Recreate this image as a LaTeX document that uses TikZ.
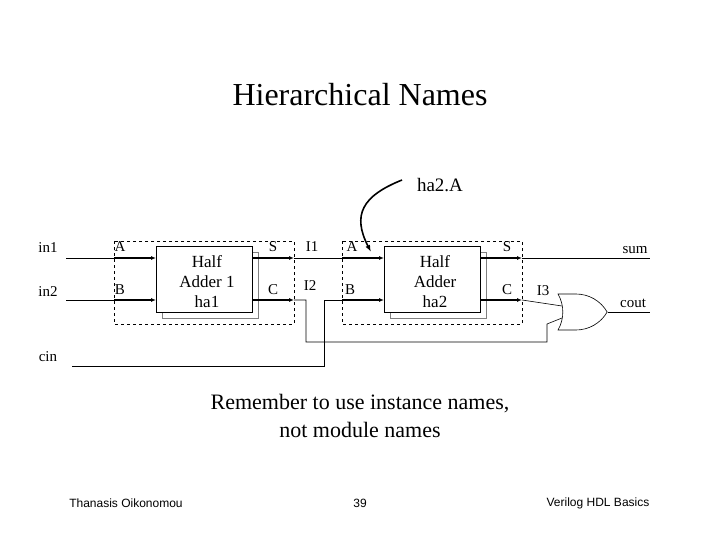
\documentclass[tikz,border=0pt]{standalone}
\usepackage{fontspec}
\setmainfont{Liberation Serif}
\setsansfont{Liberation Sans}
\usetikzlibrary{arrows.meta,shapes.gates.logic.US}
\begin{document}
\begin{tikzpicture}[x=1pt,y=-1pt,
  lbl/.style={inner sep=0pt,font=\fontsize{15}{17}\selectfont},
  wire/.style={line width=0.6pt},
  bus/.style={line width=1.4pt,-{Latex[length=5pt,width=4pt]}},
  dbox/.style={draw,dashed,line width=0.6pt},
  blk/.style={draw,line width=0.8pt,fill=white,minimum width=96pt,minimum height=66pt,inner sep=0pt},
  shade/.style={draw=gray,line width=1pt,minimum width=96pt,minimum height=66pt}]
\useasboundingbox (0,0) rectangle (720,540);
\node[font=\fontsize{32}{36}\selectfont] (title) at (360,95) {Hierarchical Names};
% boxes
\draw[dbox] (114,241) rectangle (294,324);
\draw[dbox] (342,241) rectangle (522,324);
\node[shade] (g1) at (210,285) {};
\node[blk] (h1) at (204,279) {};
\node[font=\fontsize{17}{20}\selectfont,align=center] (t1) at (207,282) {Half\\Adder 1\\ha1};
\node[shade] (g2) at (438,285) {};
\node[blk] (h2) at (432,279) {};
\node[font=\fontsize{17}{20}\selectfont,align=center] (t2) at (435,282) {Half\\Adder\\ha2};
% coordinates
\coordinate (in1e) at (66,258); \coordinate (in2e) at (66,300);
\coordinate (a1) at (156,258); \coordinate (b1) at (156,300);
\coordinate (s1s) at (252,258); \coordinate (s1) at (294,258);
\coordinate (c1s) at (252,300); \coordinate (c1) at (294,300);
\coordinate (a2) at (384,258); \coordinate (b2) at (384,300);
\coordinate (s2s) at (481,258); \coordinate (s2) at (522,258);
\coordinate (c2s) at (481,300); \coordinate (c2) at (522,300);
\coordinate (sumE) at (650,258); \coordinate (coutE) at (650,312);
\coordinate (cinE) at (72,366);
\node[or gate US,draw,logic gate inputs=nn,minimum width=42pt,minimum height=36pt,line width=0.6pt] (or) at (579,312) {};
% wires
\draw[wire] (in1e) -- (114,258); \draw[wire] (in2e) -- (114,300);
\draw[bus] (114,258) -- (a1); \draw[bus] (114,300) -- (b1);
\draw[bus] (s1s) -- (s1); \draw[bus] (c1s) -- (c1);
\draw[wire] (s1) -- (342,258);
\draw[bus] (342,258) -- (a2); \draw[bus] (342,300) -- (b2);
\draw[bus] (s2s) -- (s2); \draw[bus] (c2s) -- (c2);
\draw[wire] (s2) -- (sumE);
\draw[wire] (c2) -- (or.input 1);
\draw[wire] (c1) -| (306,342) -| (547,324) -- (or.input 2);
\draw[wire] (cinE) -| (324,300) -- (342,300);
\draw[wire] (or.output) -- (coutE);
% labels
\node[lbl] (l1) at (48,248) {in1}; \node[lbl] (l2) at (48,292) {in2};
\node[lbl] (l3) at (120,247) {A}; \node[lbl] (l4) at (120,290) {B};
\node[lbl] (l5) at (273,247) {S}; \node[lbl] (l6) at (273,290) {C};
\node[lbl] (l7) at (312,247) {I1}; \node[lbl] (l8) at (310,286) {I2};
\node[lbl] (l9) at (352,247) {A}; \node[lbl] (l10) at (350,290) {B};
\node[lbl] (l11) at (507,247) {S}; \node[lbl] (l12) at (507,290) {C};
\node[lbl] (l13) at (543,291) {I3};
\node[lbl] (l14) at (635,250) {sum}; \node[lbl] (l15) at (633,303) {cout};
\node[lbl] (l16) at (48,357) {cin};
\node[font=\fontsize{19}{22}\selectfont] (ha2a) at (440,185) {ha2.A};
\draw[line width=1.6pt,-{Latex[length=7pt,width=5pt]}] (402,180) .. controls (362,196) and (352,215) .. (371,252);
\node[font=\fontsize{22}{28}\selectfont,align=center] (rem) at (360,416) {Remember to use instance names,\\not module names};
\node[font=\sffamily\fontsize{12}{14}\selectfont] (f1) at (126,503) {Thanasis Oikonomou};
\node[font=\sffamily\fontsize{12}{14}\selectfont] (f2) at (360,503) {39};
\node[font=\sffamily\fontsize{12}{14}\selectfont] (f3) at (598,503) {Verilog HDL Basics};
\end{tikzpicture}
\end{document}
